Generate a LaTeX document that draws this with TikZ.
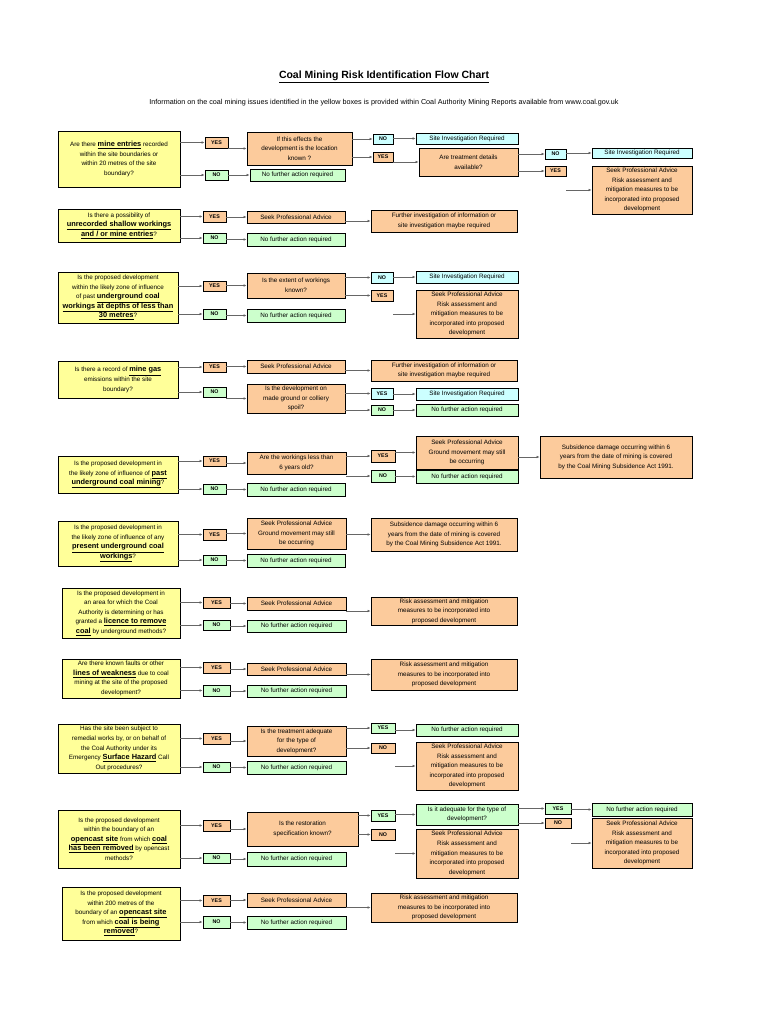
\documentclass[tikz,border=0pt]{standalone}
\usepackage{fontspec}
\setmainfont{Liberation Sans}
\usetikzlibrary{arrows.meta}
\definecolor{cy}{HTML}{FFFF99}
\definecolor{cor}{HTML}{FCCB9C}
\definecolor{cgr}{HTML}{CCFFCC}
\definecolor{ccy}{HTML}{CCFFFF}
\newcommand\kw[1]{{\fontsize{7.4}{9}\selectfont\bfseries\underline{#1}}}
\newcommand\bx[7]{\node[box,fill=#2,minimum width={(#5-#3)*1pt},minimum height={(#6-#4)*1pt}] (#1) at ({(#3+#5)/2},{(#4+#6)/2}) {#7};}
\newcommand\ar[2]{\draw[arr] (#1.east |- #2.west) -- (#2.west);}
\tikzset{
 box/.style={draw=black,line width=0.8pt,inner sep=0.5pt,align=center,font=\fontsize{6.3}{9.6}\selectfont},
 tag/.style={box,font=\fontsize{5.3}{6}\selectfont\bfseries},
 arr/.style={draw=black!60,line width=0.7pt,-{Latex[length=3pt,width=2.6pt,fill=black]}}
}
\newcommand\tg[6]{\node[tag,fill=#2,minimum width={(#5-#3)*1pt},minimum height={(#6-#4)*1pt}] (#1) at ({(#3+#5)/2},{(#4+#6)/2}) {#2x};}
\begin{document}
\begin{tikzpicture}[x=1pt,y=-1pt]
\useasboundingbox (0,0) rectangle (768,1024);
\fill[white] (0,0) rectangle (768,1024);
\node (title) at (384,77) {\fontsize{10.5}{12}\selectfont\bfseries\underline{Coal Mining Risk Identification Flow Chart}};
\node (sub) at (384,103) {\fontsize{7.2}{9}\selectfont Information on the coal mining issues identified in the yellow boxes is provided within Coal Authority Mining Reports available from www.coal.gov.uk};
\def\YES{YES}\def\NO{NO}
\newcommand\T[7]{\node[tag,fill=#2,minimum width={(#5-#3)*1pt},minimum height={(#6-#4)*1pt}] (#1) at ({(#3+#5)/2},{(#4+#6)/2}) {#7};}
% Row 1
\bx{q1}{cy}{58}{131}{180}{187}{Are there \kw{mine entries} recorded\\within the site boundaries or\\within 20 metres of the site\\boundary?}
\T{q1y}{cor}{205}{137}{228}{148}{YES}
\T{q1n}{cgr}{205}{170}{228}{180}{NO}
\bx{a1}{cor}{247}{132}{352}{165}{If this effects the\\development is the location\\known ?}
\bx{a1n}{cgr}{250}{169}{345}{181}{No further action required}
\T{a1no}{ccy}{373}{134}{393}{144}{NO}
\T{a1yes}{cor}{373}{152}{393}{162}{YES}
\bx{b1}{ccy}{416}{133}{518}{144}{Site Investigation Required}
\bx{b2}{cor}{419}{148}{518}{176}{Are treatment details\\available?}
\T{b2no}{ccy}{545}{149}{566}{159}{NO}
\T{b2yes}{cor}{545}{166}{566}{176}{YES}
\bx{c1}{ccy}{592}{148}{692}{158}{Site Investigation Required}
\bx{c2}{cor}{592}{166}{692}{214}{Seek Professional Advice\\Risk assessment and\\mitigation measures to be\\incorporated into proposed\\development}
\ar{q1}{q1y}\ar{q1}{q1n}\ar{q1y}{a1}\ar{q1n}{a1n}
\ar{a1}{a1no}\ar{a1}{a1yes}\ar{a1no}{b1}\ar{a1yes}{b2}
\ar{b2}{b2no}\ar{b2}{b2yes}\ar{b2no}{c1}\ar{b2yes}{c2}
% Row 2
\bx{q2}{cy}{58}{209}{180}{242}{Is there a possibility of\\\kw{unrecorded shallow workings}\\\kw{and / or mine entries}?}
\T{q2y}{cor}{203}{211}{226}{222}{YES}
\T{q2n}{cgr}{203}{233}{226}{243}{NO}
\bx{a2}{cor}{247}{211}{345}{223}{Seek Professional Advice}
\bx{a2n}{cgr}{247}{233}{345}{246}{No further action required}
\bx{b2a}{cor}{371}{210}{517}{232}{Further investigation of information or\\site investigation maybe required}
\ar{q2}{q2y}\ar{q2}{q2n}\ar{q2y}{a2}\ar{q2n}{a2n}\ar{a2}{b2a}
% Row 3
\bx{q3}{cy}{58}{272}{178}{323}{Is the proposed development\\within the likely zone of influence\\of past \kw{underground coal}\\\kw{workings at depths of less than}\\\kw{30 metres}?}
\T{q3y}{cor}{203}{281}{226}{291}{YES}
\T{q3n}{cgr}{203}{309}{226}{319}{NO}
\bx{a3}{cor}{247}{273}{345}{298}{Is the extent of workings\\known?}
\bx{a3n}{cgr}{247}{309}{345}{322}{No further action required}
\T{a3no}{ccy}{371}{272}{393}{283}{NO}
\T{a3yes}{cor}{371}{290}{393}{301}{YES}
\bx{b3a}{ccy}{416}{271}{518}{283}{Site Investigation Required}
\bx{b3b}{cor}{416}{290}{518}{338}{Seek Professional Advice\\Risk assessment and\\mitigation measures to be\\incorporated into proposed\\development}
\ar{q3}{q3y}\ar{q3}{q3n}\ar{q3y}{a3}\ar{q3n}{a3n}
\ar{a3}{a3no}\ar{a3}{a3yes}\ar{a3no}{b3a}\ar{a3yes}{b3b}
% Row 4
\bx{q4}{cy}{58}{361}{178}{398}{Is there a record of \kw{mine gas}\\emissions within the site\\boundary?}
\T{q4y}{cor}{203}{362}{226}{372}{YES}
\T{q4n}{cgr}{203}{387}{226}{397}{NO}
\bx{a4}{cor}{247}{360}{345}{373}{Seek Professional Advice}
\bx{b4}{cor}{371}{360}{517}{381}{Further investigation of information or\\site investigation maybe required}
\bx{a4b}{cor}{247}{384}{345}{413}{Is the development on\\made ground or colliery\\spoil?}
\T{a4yes}{ccy}{371}{388}{393}{399}{YES}
\T{a4no}{cgr}{371}{405}{393}{415}{NO}
\bx{b4a}{ccy}{416}{388}{518}{400}{Site Investigation Required}
\bx{b4b}{cgr}{416}{404}{518}{416}{No further action required}
\ar{q4}{q4y}\ar{q4}{q4n}\ar{q4y}{a4}\ar{q4n}{a4b}\ar{a4}{b4}
\ar{a4b}{a4yes}\ar{a4b}{a4no}\ar{a4yes}{b4a}\ar{a4no}{b4b}
% Row 5
\bx{q5}{cy}{58}{456}{178}{493}{Is the proposed development in\\the likely zone of influence of \kw{past}\\\kw{underground coal mining}?}
\T{q5y}{cor}{203}{456}{226}{466}{YES}
\T{q5n}{cgr}{203}{484}{226}{494}{NO}
\bx{a5}{cor}{247}{452}{346}{474}{Are the workings less than\\6 years old?}
\bx{a5n}{cgr}{247}{483}{345}{496}{No further action required}
\T{a5yes}{cor}{371}{450}{395}{462}{YES}
\T{a5no}{cgr}{371}{470}{395}{482}{NO}
\bx{b5a}{cor}{416}{436}{518}{469}{Seek Professional Advice\\Ground movement may still\\be occurring}
\bx{b5b}{cgr}{416}{470}{518}{483}{No further action required}
\bx{c5}{cor}{540}{436}{692}{478}{Subsidence damage occurring within 6\\years from the date of mining is covered\\by the Coal Mining Subsidence Act 1991.}
\ar{q5}{q5y}\ar{q5}{q5n}\ar{q5y}{a5}\ar{q5n}{a5n}
\ar{a5}{a5yes}\ar{a5}{a5no}\ar{a5yes}{b5a}\ar{a5no}{b5b}\ar{b5a}{c5}
% Row 6
\bx{q6}{cy}{58}{521}{178}{566}{Is the proposed development in\\the likely zone of influence of any\\\kw{present underground coal}\\\kw{workings}?}
\T{q6y}{cor}{203}{529}{226}{540}{YES}
\T{q6n}{cgr}{203}{555}{226}{565}{NO}
\bx{a6}{cor}{247}{518}{346}{549}{Seek Professional Advice\\Ground movement may still\\be occurring}
\bx{a6n}{cgr}{247}{554}{345}{567}{No further action required}
\bx{b6}{cor}{371}{518}{517}{551}{Subsidence damage occurring within 6\\years from the date of mining is covered\\by the Coal Mining Subsidence Act 1991.}
\ar{q6}{q6y}\ar{q6}{q6n}\ar{q6y}{a6}\ar{q6n}{a6n}\ar{a6}{b6}
% Row 7
\bx{q7}{cy}{62}{588}{180}{638}{Is the proposed development in\\an area for which the Coal\\Authority is determining or has\\granted a \kw{licence to remove}\\\kw{coal} by underground methods?}
\T{q7y}{cor}{203}{597}{230}{608}{YES}
\T{q7n}{cgr}{203}{620}{230}{630}{NO}
\bx{a7}{cor}{247}{597}{346}{610}{Seek Professional Advice}
\bx{a7n}{cgr}{247}{620}{346}{632}{No further action required}
\bx{b7}{cor}{371}{597}{517}{625}{Risk assessment and mitigation\\measures to be incorporated into\\proposed development}
\ar{q7}{q7y}\ar{q7}{q7n}\ar{q7y}{a7}\ar{q7n}{a7n}\ar{a7}{b7}
% Row 8
\bx{q8}{cy}{62}{659}{180}{698}{Are there known faults or other\\\kw{lines of weakness} due to coal\\mining at the site of the proposed\\development?}
\T{q8y}{cor}{203}{662}{230}{673}{YES}
\T{q8n}{cgr}{203}{685}{230}{696}{NO}
\bx{a8}{cor}{247}{663}{346}{675}{Seek Professional Advice}
\bx{a8n}{cgr}{247}{685}{346}{697}{No further action required}
\bx{b8}{cor}{371}{659}{517}{690}{Risk assessment and mitigation\\measures to be incorporated into\\proposed development}
\ar{q8}{q8y}\ar{q8}{q8n}\ar{q8y}{a8}\ar{q8n}{a8n}\ar{a8}{b8}
% Row 9
\bx{q9}{cy}{58}{724}{180}{773}{Has the site been subject to\\remedial works by, or on behalf of\\the Coal Authority under its\\Emergency \kw{Surface Hazard} Call\\Out procedures?}
\T{q9y}{cor}{203}{733}{230}{744}{YES}
\T{q9n}{cgr}{203}{762}{230}{772}{NO}
\bx{a9}{cor}{247}{726}{346}{756}{Is the treatment adequate\\for the type of\\development?}
\bx{a9n}{cgr}{247}{761}{346}{774}{No further action required}
\T{a9yes}{cgr}{371}{723}{395}{733}{YES}
\T{a9no}{cor}{371}{743}{395}{753}{NO}
\bx{b9a}{cgr}{416}{724}{518}{736}{No further action required}
\bx{b9b}{cor}{416}{742}{518}{790}{Seek Professional Advice\\Risk assessment and\\mitigation measures to be\\incorporated into proposed\\development}
\ar{q9}{q9y}\ar{q9}{q9n}\ar{q9y}{a9}\ar{q9n}{a9n}
\ar{a9}{a9yes}\ar{a9}{a9no}\ar{a9yes}{b9a}\ar{a9no}{b9b}
% Row 10
\bx{q10}{cy}{58}{810}{180}{868}{Is the proposed development\\within the boundary of an\\\kw{opencast site} from which \kw{coal}\\\kw{has been removed} by opencast\\methods?}
\T{q10y}{cor}{203}{820}{230}{831}{YES}
\T{q10n}{cgr}{203}{853}{230}{863}{NO}
\bx{a10}{cor}{247}{812}{358}{846}{Is the restoration\\specification known?}
\bx{a10n}{cgr}{247}{852}{346}{866}{No further action required}
\T{a10yes}{cgr}{371}{810}{395}{821}{YES}
\T{a10no}{cor}{371}{829}{395}{840}{NO}
\bx{b10a}{cgr}{416}{804}{518}{825}{Is it adequate for the type of\\development?}
\bx{b10b}{cor}{416}{829}{518}{878}{Seek Professional Advice\\Risk assessment and\\mitigation measures to be\\incorporated into proposed\\development}
\T{b10yes}{cgr}{545}{803}{571}{814}{YES}
\T{b10no}{cor}{545}{818}{571}{828}{NO}
\bx{c10a}{cgr}{592}{803}{692}{816}{No further action required}
\bx{c10b}{cor}{592}{818}{692}{868}{Seek Professional Advice\\Risk assessment and\\mitigation measures to be\\incorporated into proposed\\development}
\ar{q10}{q10y}\ar{q10}{q10n}\ar{q10y}{a10}\ar{q10n}{a10n}
\ar{a10}{a10yes}\ar{a10}{a10no}\ar{a10yes}{b10a}\ar{a10no}{b10b}
\ar{b10a}{b10yes}\ar{b10a}{b10no}\ar{b10yes}{c10a}\ar{b10no}{c10b}
% Row 11
\bx{q11}{cy}{62}{887}{180}{940}{Is the proposed development\\within 200 metres of the\\boundary of an \kw{opencast site}\\from which \kw{coal is being}\\\kw{removed}?}
\T{q11y}{cor}{203}{895}{230}{906}{YES}
\T{q11n}{cgr}{203}{916}{230}{928}{NO}
\bx{a11}{cor}{247}{893}{346}{907}{Seek Professional Advice}
\bx{a11n}{cgr}{247}{916}{346}{929}{No further action required}
\bx{b11}{cor}{371}{893}{517}{922}{Risk assessment and mitigation\\measures to be incorporated into\\proposed development}
\ar{q11}{q11y}\ar{q11}{q11n}\ar{q11y}{a11}\ar{q11n}{a11n}\ar{a11}{b11}
\end{tikzpicture}
\end{document}
